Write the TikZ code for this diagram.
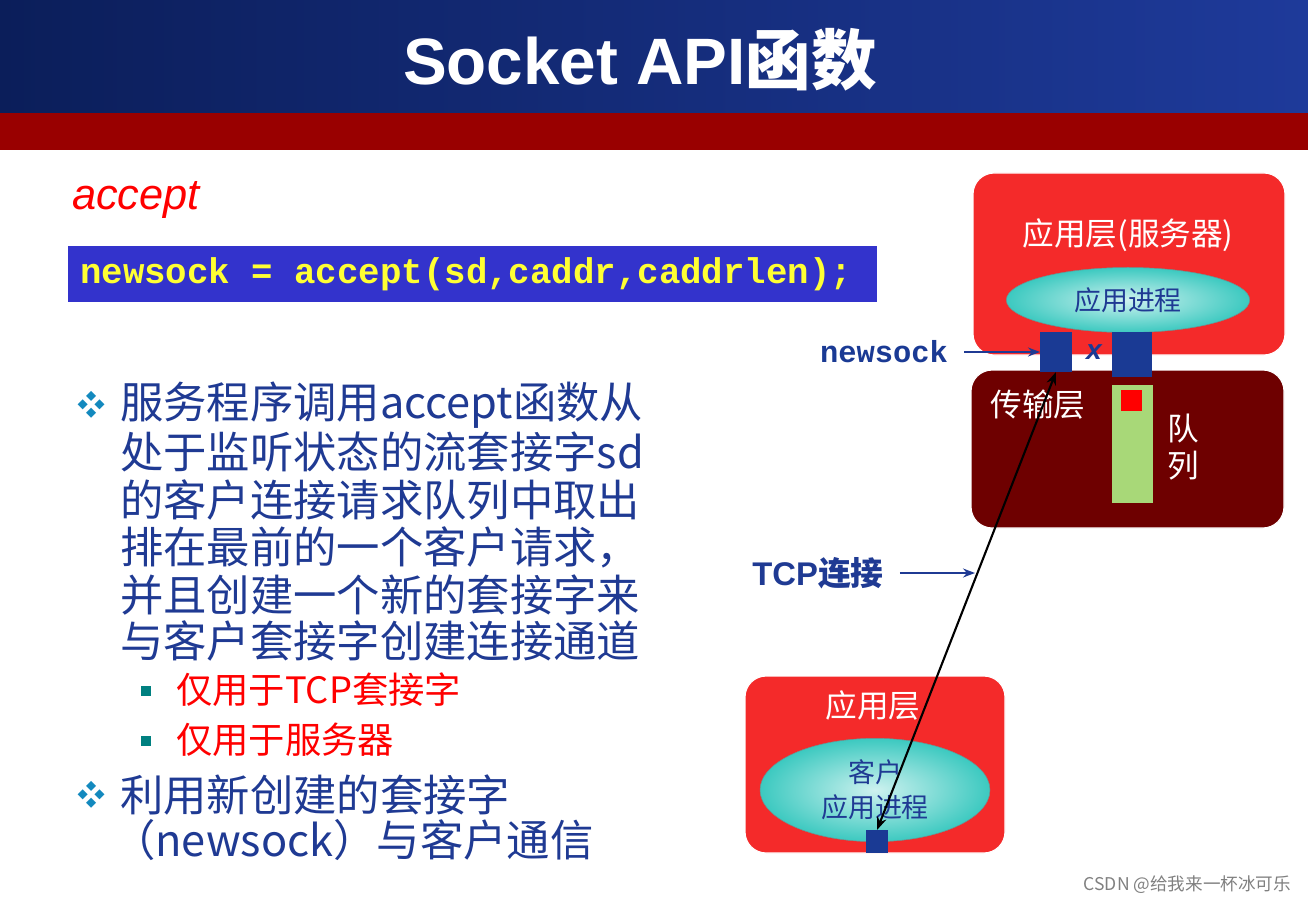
\documentclass[tikz,border=0pt]{standalone}
\usepackage{fontspec}
\setmainfont{Noto Sans CJK SC}
\setmonofont{Liberation Mono}
\newfontfamily\latinsans{Liberation Sans}
\usetikzlibrary{positioning,shapes.geometric,arrows.meta}
\definecolor{navy}{HTML}{0B1E5A}
\definecolor{titleblue}{HTML}{1E3A9A}
\definecolor{barred}{HTML}{990000}
\definecolor{textblue}{HTML}{1F3A93}
\definecolor{codebox}{HTML}{3333CC}
\definecolor{codeyellow}{HTML}{FFFF33}
\definecolor{boxred}{HTML}{F42A2A}
\definecolor{darkred}{HTML}{6E0000}
\definecolor{tealproc}{HTML}{3CC9C0}
\definecolor{queuegreen}{HTML}{A8D878}
\definecolor{sockblue}{HTML}{1A3A94}
\tikzset{
  layerbox/.style = {draw = white, line width = 1pt, rounded corners = 18pt, fill = boxred},
  procell/.style = {ellipse, draw = gray, fill = tealproc, inner color = tealproc!25, outer color = tealproc, align = center},
  bodytext/.style = {anchor = west, text = textblue, font = \fontsize{37}{40}\selectfont},
  subtext/.style = {anchor = west, text = red, font = \fontsize{31}{36}\selectfont},
  sock/.style = {fill = sockblue},
  diam/.style = {anchor = center, text = textblue!60!cyan, font = \fontsize{24}{24}\selectfont},
  pointer/.style = {-Stealth, textblue, line width = 1.6pt}
}
\begin{document}
\begin{tikzpicture}[x = 0.03cm, y = -0.03cm]
\useasboundingbox (0,0) rectangle (1308,904);
%Title
\shade[left color = navy, right color = titleblue] (0,0) rectangle (1308,113);
\fill[barred] (0,113) rectangle (1308,150);
\node[text = white, font = \fontsize{56}{60}\selectfont\bfseries] (title) at (640,60) {{\latinsans Socket API}函数};
\node[anchor = west, text = red, font = \latinsans\fontsize{37}{40}\selectfont\itshape] (acc) at (68,200) {accept};
\fill[codebox] (68,246) rectangle (877,302);
\node[anchor = west, text = codeyellow, font = \ttfamily\bfseries\fontsize{30.5}{32}\selectfont] (code) at (76,274) {newsock = accept(sd,caddr,caddrlen);};
%Bullets
\node[diam] (d1) at (92,405) {❖};
\node[bodytext] (l1) at (116,405) {服务程序调用accept函数从};
\node[bodytext] (l2) at (116,452) {处于监听状态的流套接字sd};
\node[bodytext] (l3) at (116,500) {的客户连接请求队列中取出};
\node[bodytext] (l4) at (116,547) {排在最前的一个客户请求，};
\node[bodytext] (l5) at (116,595) {并且创建一个新的套接字来};
\node[bodytext] (l6) at (116,641) {与客户套接字创建连接通道};
\fill[teal] (141,686) rectangle (151,696);
\node[subtext] (s1) at (172,690) {仅用于TCP套接字};
\fill[teal] (141,736) rectangle (151,746);
\node[subtext] (s2) at (172,740) {仅用于服务器};
\node[diam] (d2) at (92,795) {❖};
\node[bodytext] (l7) at (116,795) {利用新创建的套接字};
\node[bodytext] (l8) at (108,840) {（newsock）与客户通信};
%Server
\filldraw[layerbox] (973,173) rectangle (1285,355);
\node[text = white, font = \fontsize{27}{30}\selectfont] (app) at (1128,235) {应用层(服务器)};
\node[procell, text = textblue, font = \fontsize{23}{26}\selectfont, minimum width = 7.3cm, minimum height = 1.95cm] (proc) at (1128,300) {应用进程};
\filldraw[layerbox, fill = darkred] (971,370) rectangle (1284,528);
\node[text = white, font = \fontsize{27}{30}\selectfont] (trans) at (1038,405) {传输层};
\fill[queuegreen] (1112,385) rectangle (1153,503);
\fill[red] (1121,390) rectangle (1142,411);
\node[text = white, font = \fontsize{27}{30}\selectfont, align = center] (queue) at (1183,447) {队\\[2pt]列};
\fill[sock] (1040,332) rectangle (1072,372);
\coordinate (newsk) at (1056,372);
\fill[sock] (1112,332) rectangle (1152,377);
\node[text = sockblue, font = \latinsans\fontsize{24}{26}\selectfont\bfseries\itshape] (xmark) at (1094,352) {x};
\node[text = sockblue, font = \ttfamily\bfseries\fontsize{26}{26}\selectfont] (nslabel) at (884,352) {newsock};
\draw[pointer] (nslabel.east) ++(12,0) coordinate (a1) -- (1040,352);
%Client
\filldraw[layerbox] (745,676) rectangle (1005,853);
\node[text = white, font = \fontsize{27}{30}\selectfont] (capp) at (873,705) {应用层};
\node[procell, text = textblue, font = \fontsize{23}{30}\selectfont, minimum width = 6.9cm, minimum height = 3.1cm] (cproc) at (875,790) {客户\\应用进程};
\fill[sock] (866,830) rectangle (888,853);
\coordinate (clisk) at (877,830);
%TCP
\node[text = textblue, font = \fontsize{28}{30}\selectfont\bfseries] (tcp) at (818,573) {{\latinsans TCP}连接};
\draw[pointer] (tcp.east) ++(12,0) -- (975,573);
\draw[Stealth-Stealth, black, line width = 1.8pt] (newsk) -- (clisk);
\node[anchor = east, text = gray, font = \fontsize{15}{16}\selectfont] (wm) at (1295,885) {CSDN @给我来一杯冰可乐};
\end{tikzpicture}
\end{document}
